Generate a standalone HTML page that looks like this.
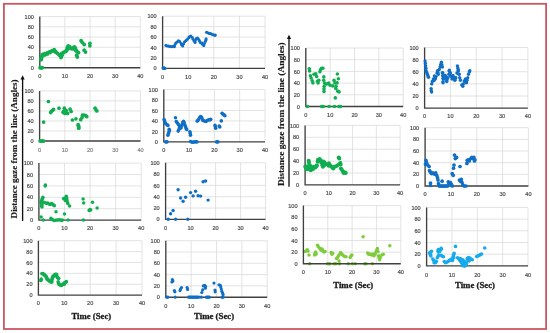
<!DOCTYPE html>
<html><head><meta charset="utf-8"><title>Figure</title>
<style>html,body{margin:0;padding:0;background:#fff}svg{display:block;filter:blur(0.35px)}</style>
</head><body>
<svg width="550" height="333" viewBox="0 0 550 333">
<rect x="0" y="0" width="550" height="333" fill="#fff"/>
<rect x="3.9" y="3.8" width="542.2" height="325.2" fill="none" stroke="#cb5763" stroke-width="1.8"/>
<g stroke="#dadada" stroke-width="0.75"><line x1="64.92" y1="16.60" x2="64.92" y2="67.70"/><line x1="90.05" y1="16.60" x2="90.05" y2="67.70"/><line x1="115.18" y1="16.60" x2="115.18" y2="67.70"/><line x1="140.30" y1="16.60" x2="140.30" y2="67.70"/><line x1="39.80" y1="57.48" x2="140.30" y2="57.48"/><line x1="39.80" y1="47.26" x2="140.30" y2="47.26"/><line x1="39.80" y1="37.04" x2="140.30" y2="37.04"/><line x1="39.80" y1="26.82" x2="140.30" y2="26.82"/><line x1="39.80" y1="16.60" x2="140.30" y2="16.60"/></g>
<path d="M39.80 16.60V67.70H140.30" fill="none" stroke="#404040" stroke-width="1.35" stroke-linejoin="miter"/>
<g fill="#10ae50"><circle cx="40.1" cy="67.7" r="1.90"/><circle cx="40.8" cy="67.7" r="1.90"/><circle cx="41.6" cy="67.7" r="1.90"/><circle cx="42.3" cy="67.7" r="1.90"/><circle cx="42.4" cy="55.0" r="1.90"/><circle cx="44.8" cy="55.0" r="1.90"/><circle cx="47.5" cy="53.9" r="1.90"/><circle cx="50.1" cy="52.5" r="1.90"/><circle cx="52.8" cy="51.0" r="1.90"/><circle cx="55.2" cy="51.7" r="1.90"/><circle cx="63.4" cy="52.7" r="1.90"/><circle cx="66.6" cy="50.2" r="1.90"/><circle cx="69.7" cy="46.7" r="1.90"/><circle cx="72.6" cy="48.9" r="1.90"/><circle cx="75.6" cy="48.9" r="1.90"/><circle cx="76.4" cy="50.8" r="1.90"/><circle cx="40.9" cy="59.8" r="1.90"/><circle cx="41.1" cy="59.1" r="1.90"/><circle cx="41.4" cy="57.3" r="1.90"/><circle cx="42.1" cy="55.9" r="1.90"/><circle cx="42.7" cy="54.4" r="1.90"/><circle cx="44.8" cy="53.6" r="1.90"/><circle cx="46.5" cy="53.8" r="1.90"/><circle cx="47.2" cy="53.0" r="1.90"/><circle cx="49.0" cy="52.2" r="1.90"/><circle cx="50.7" cy="51.4" r="1.90"/><circle cx="52.4" cy="50.6" r="1.90"/><circle cx="54.2" cy="49.7" r="1.90"/><circle cx="55.6" cy="51.5" r="1.90"/><circle cx="56.0" cy="52.3" r="1.90"/><circle cx="57.4" cy="53.3" r="1.90"/><circle cx="58.8" cy="54.4" r="1.90"/><circle cx="59.9" cy="55.5" r="1.90"/><circle cx="61.0" cy="57.6" r="1.90"/><circle cx="61.6" cy="56.1" r="1.90"/><circle cx="62.2" cy="54.7" r="1.90"/><circle cx="61.8" cy="53.3" r="1.90"/><circle cx="63.5" cy="52.4" r="1.90"/><circle cx="65.2" cy="51.6" r="1.90"/><circle cx="66.0" cy="51.3" r="1.90"/><circle cx="66.8" cy="50.0" r="1.90"/><circle cx="67.6" cy="48.7" r="1.90"/><circle cx="67.4" cy="47.4" r="1.90"/><circle cx="68.1" cy="46.0" r="1.90"/><circle cx="69.6" cy="47.8" r="1.90"/><circle cx="71.0" cy="48.6" r="1.90"/><circle cx="72.7" cy="47.8" r="1.90"/><circle cx="74.4" cy="46.9" r="1.90"/><circle cx="75.2" cy="47.8" r="1.90"/><circle cx="75.0" cy="48.7" r="1.90"/><circle cx="75.8" cy="50.6" r="1.90"/><circle cx="77.2" cy="51.6" r="1.90"/><circle cx="78.5" cy="52.7" r="1.90"/><circle cx="76.7" cy="55.2" r="1.90"/><circle cx="77.3" cy="57.1" r="1.90"/><circle cx="81.1" cy="40.7" r="1.90"/><circle cx="82.3" cy="42.6" r="1.90"/><circle cx="84.2" cy="44.5" r="1.90"/><circle cx="84.2" cy="50.2" r="1.90"/><circle cx="85.5" cy="52.1" r="1.90"/><circle cx="89.9" cy="43.3" r="1.90"/><circle cx="89.9" cy="45.8" r="1.90"/><circle cx="41.6" cy="58.8" r="1.90"/></g>
<g font-family="&quot;Liberation Sans&quot;, sans-serif" font-size="6.0" fill="#484848" stroke="#484848" stroke-width="0.18"><text transform="translate(33.90 69.80) scale(0.93 1)" text-anchor="end">0</text><text transform="translate(33.90 59.58) scale(0.93 1)" text-anchor="end">20</text><text transform="translate(33.90 49.36) scale(0.93 1)" text-anchor="end">40</text><text transform="translate(33.90 39.14) scale(0.93 1)" text-anchor="end">60</text><text transform="translate(33.90 28.92) scale(0.93 1)" text-anchor="end">80</text><text transform="translate(33.90 18.70) scale(0.93 1)" text-anchor="end">100</text><text transform="translate(39.80 78.35) scale(0.93 1)" text-anchor="middle">0</text><text transform="translate(64.92 78.35) scale(0.93 1)" text-anchor="middle">10</text><text transform="translate(90.05 78.35) scale(0.93 1)" text-anchor="middle">20</text><text transform="translate(115.18 78.35) scale(0.93 1)" text-anchor="middle">30</text><text transform="translate(140.30 78.35) scale(0.93 1)" text-anchor="middle">40</text></g>
<g stroke="#dadada" stroke-width="0.75"><line x1="188.20" y1="16.20" x2="188.20" y2="68.30"/><line x1="213.80" y1="16.20" x2="213.80" y2="68.30"/><line x1="239.40" y1="16.20" x2="239.40" y2="68.30"/><line x1="265.00" y1="16.20" x2="265.00" y2="68.30"/><line x1="162.60" y1="57.88" x2="265.00" y2="57.88"/><line x1="162.60" y1="47.46" x2="265.00" y2="47.46"/><line x1="162.60" y1="37.04" x2="265.00" y2="37.04"/><line x1="162.60" y1="26.62" x2="265.00" y2="26.62"/><line x1="162.60" y1="16.20" x2="265.00" y2="16.20"/></g>
<path d="M162.60 16.20V68.30H265.00" fill="none" stroke="#404040" stroke-width="1.35" stroke-linejoin="miter"/>
<g fill="#106fc5"><circle cx="163.0" cy="68.1" r="1.55"/><circle cx="163.6" cy="68.5" r="1.55"/><circle cx="164.3" cy="68.1" r="1.55"/><circle cx="164.9" cy="68.4" r="1.55"/><circle cx="163.9" cy="67.9" r="1.55"/><circle cx="165.9" cy="45.4" r="1.55"/><circle cx="167.3" cy="46.0" r="1.55"/><circle cx="168.7" cy="46.1" r="1.55"/><circle cx="170.1" cy="46.5" r="1.55"/><circle cx="171.5" cy="46.7" r="1.55"/><circle cx="172.9" cy="46.4" r="1.55"/><circle cx="174.3" cy="46.7" r="1.55"/><circle cx="174.5" cy="45.5" r="1.55"/><circle cx="175.6" cy="43.4" r="1.55"/><circle cx="177.0" cy="42.0" r="1.55"/><circle cx="178.4" cy="40.9" r="1.55"/><circle cx="179.8" cy="41.6" r="1.55"/><circle cx="181.2" cy="43.5" r="1.55"/><circle cx="181.6" cy="44.8" r="1.55"/><circle cx="182.7" cy="45.9" r="1.55"/><circle cx="183.6" cy="43.8" r="1.55"/><circle cx="184.6" cy="41.7" r="1.55"/><circle cx="186.0" cy="40.6" r="1.55"/><circle cx="187.4" cy="39.2" r="1.55"/><circle cx="188.8" cy="37.8" r="1.55"/><circle cx="189.3" cy="36.9" r="1.55"/><circle cx="190.7" cy="36.1" r="1.55"/><circle cx="192.1" cy="37.2" r="1.55"/><circle cx="193.1" cy="39.3" r="1.55"/><circle cx="194.1" cy="41.0" r="1.55"/><circle cx="195.1" cy="42.5" r="1.55"/><circle cx="195.3" cy="40.6" r="1.55"/><circle cx="196.3" cy="38.6" r="1.55"/><circle cx="197.5" cy="38.1" r="1.55"/><circle cx="198.5" cy="39.2" r="1.55"/><circle cx="199.5" cy="40.9" r="1.55"/><circle cx="200.4" cy="42.6" r="1.55"/><circle cx="202.1" cy="43.1" r="1.55"/><circle cx="202.5" cy="44.2" r="1.55"/><circle cx="203.7" cy="45.6" r="1.55"/><circle cx="204.4" cy="43.5" r="1.55"/><circle cx="205.3" cy="41.5" r="1.55"/><circle cx="205.9" cy="40.0" r="1.55"/><circle cx="206.1" cy="38.9" r="1.55"/><circle cx="206.5" cy="32.2" r="1.55"/><circle cx="207.7" cy="32.7" r="1.55"/><circle cx="209.1" cy="33.4" r="1.55"/><circle cx="210.5" cy="33.6" r="1.55"/><circle cx="211.9" cy="34.3" r="1.55"/><circle cx="213.3" cy="34.8" r="1.55"/><circle cx="214.7" cy="35.3" r="1.55"/><circle cx="215.3" cy="35.1" r="1.55"/></g>
<g font-family="&quot;Liberation Sans&quot;, sans-serif" font-size="6.0" fill="#484848" stroke="#484848" stroke-width="0.18"><text transform="translate(156.70 70.40) scale(0.93 1)" text-anchor="end">0</text><text transform="translate(156.70 59.98) scale(0.93 1)" text-anchor="end">20</text><text transform="translate(156.70 49.56) scale(0.93 1)" text-anchor="end">40</text><text transform="translate(156.70 39.14) scale(0.93 1)" text-anchor="end">60</text><text transform="translate(156.70 28.72) scale(0.93 1)" text-anchor="end">80</text><text transform="translate(156.70 18.30) scale(0.93 1)" text-anchor="end">100</text><text transform="translate(162.60 79.20) scale(0.93 1)" text-anchor="middle">0</text><text transform="translate(188.20 79.20) scale(0.93 1)" text-anchor="middle">10</text><text transform="translate(213.80 79.20) scale(0.93 1)" text-anchor="middle">20</text><text transform="translate(239.40 79.20) scale(0.93 1)" text-anchor="middle">30</text><text transform="translate(265.00 79.20) scale(0.93 1)" text-anchor="middle">40</text></g>
<g stroke="#dadada" stroke-width="0.75"><line x1="64.83" y1="90.90" x2="64.83" y2="141.00"/><line x1="90.05" y1="90.90" x2="90.05" y2="141.00"/><line x1="115.28" y1="90.90" x2="115.28" y2="141.00"/><line x1="140.50" y1="90.90" x2="140.50" y2="141.00"/><line x1="39.60" y1="130.98" x2="140.50" y2="130.98"/><line x1="39.60" y1="120.96" x2="140.50" y2="120.96"/><line x1="39.60" y1="110.94" x2="140.50" y2="110.94"/><line x1="39.60" y1="100.92" x2="140.50" y2="100.92"/><line x1="39.60" y1="90.90" x2="140.50" y2="90.90"/></g>
<path d="M39.60 90.90V141.00H140.50" fill="none" stroke="#404040" stroke-width="1.35" stroke-linejoin="miter"/>
<g fill="#10ae50"><circle cx="40.1" cy="141.0" r="1.85"/><circle cx="41.0" cy="141.0" r="1.85"/><circle cx="41.9" cy="141.0" r="1.85"/><circle cx="42.8" cy="141.0" r="1.85"/><circle cx="43.6" cy="141.0" r="1.85"/><circle cx="63.6" cy="112.2" r="1.85"/><circle cx="65.5" cy="112.8" r="1.85"/><circle cx="64.5" cy="110.5" r="1.85"/><circle cx="51.3" cy="111.3" r="1.85"/><circle cx="78.3" cy="125.3" r="1.85"/><circle cx="78.7" cy="127.8" r="1.85"/><circle cx="48.4" cy="101.5" r="1.85"/><circle cx="43.6" cy="122.1" r="1.85"/><circle cx="50.7" cy="112.6" r="1.85"/><circle cx="52.4" cy="110.5" r="1.85"/><circle cx="53.5" cy="109.4" r="1.85"/><circle cx="59.0" cy="108.2" r="1.85"/><circle cx="63.1" cy="112.2" r="1.85"/><circle cx="64.3" cy="108.2" r="1.85"/><circle cx="64.8" cy="113.4" r="1.85"/><circle cx="66.3" cy="110.5" r="1.85"/><circle cx="67.6" cy="113.4" r="1.85"/><circle cx="70.1" cy="109.1" r="1.85"/><circle cx="71.1" cy="111.4" r="1.85"/><circle cx="72.4" cy="120.0" r="1.85"/><circle cx="75.9" cy="118.8" r="1.85"/><circle cx="78.2" cy="124.7" r="1.85"/><circle cx="78.7" cy="126.6" r="1.85"/><circle cx="78.7" cy="128.2" r="1.85"/><circle cx="80.7" cy="119.7" r="1.85"/><circle cx="82.0" cy="117.6" r="1.85"/><circle cx="82.5" cy="115.2" r="1.85"/><circle cx="84.2" cy="115.0" r="1.85"/><circle cx="85.8" cy="115.7" r="1.85"/><circle cx="86.8" cy="116.7" r="1.85"/><circle cx="95.1" cy="108.2" r="1.85"/><circle cx="95.9" cy="109.8" r="1.85"/><circle cx="96.9" cy="110.9" r="1.85"/></g>
<g font-family="&quot;Liberation Sans&quot;, sans-serif" font-size="6.0" fill="#484848" stroke="#484848" stroke-width="0.18"><text transform="translate(33.70 143.10) scale(0.93 1)" text-anchor="end">0</text><text transform="translate(33.70 133.08) scale(0.93 1)" text-anchor="end">20</text><text transform="translate(33.70 123.06) scale(0.93 1)" text-anchor="end">40</text><text transform="translate(33.70 113.04) scale(0.93 1)" text-anchor="end">60</text><text transform="translate(33.70 103.02) scale(0.93 1)" text-anchor="end">80</text><text transform="translate(33.70 93.00) scale(0.93 1)" text-anchor="end">100</text><text transform="translate(39.60 151.55) scale(0.93 1)" text-anchor="middle" fill="#808080" stroke="#808080">0</text><text transform="translate(64.83 151.55) scale(0.93 1)" text-anchor="middle" fill="#808080" stroke="#808080">10</text><text transform="translate(90.05 151.55) scale(0.93 1)" text-anchor="middle" fill="#808080" stroke="#808080">20</text><text transform="translate(115.28 151.55) scale(0.93 1)" text-anchor="middle" fill="#808080" stroke="#808080">30</text><text transform="translate(140.50 151.55) scale(0.93 1)" text-anchor="middle" fill="#808080" stroke="#808080">40</text></g>
<g stroke="#dadada" stroke-width="0.75"><line x1="189.10" y1="89.50" x2="189.10" y2="141.90"/><line x1="214.40" y1="89.50" x2="214.40" y2="141.90"/><line x1="239.70" y1="89.50" x2="239.70" y2="141.90"/><line x1="265.00" y1="89.50" x2="265.00" y2="141.90"/><line x1="163.80" y1="131.42" x2="265.00" y2="131.42"/><line x1="163.80" y1="120.94" x2="265.00" y2="120.94"/><line x1="163.80" y1="110.46" x2="265.00" y2="110.46"/><line x1="163.80" y1="99.98" x2="265.00" y2="99.98"/><line x1="163.80" y1="89.50" x2="265.00" y2="89.50"/></g>
<path d="M163.80 89.50V141.90H265.00" fill="none" stroke="#404040" stroke-width="1.35" stroke-linejoin="miter"/>
<g fill="#106fc5"><circle cx="164.1" cy="119.6" r="1.80"/><circle cx="164.5" cy="120.9" r="1.80"/><circle cx="164.8" cy="122.2" r="1.80"/><circle cx="165.7" cy="123.5" r="1.80"/><circle cx="167.0" cy="124.7" r="1.80"/><circle cx="167.9" cy="125.4" r="1.80"/><circle cx="169.2" cy="129.2" r="1.80"/><circle cx="169.5" cy="130.5" r="1.80"/><circle cx="168.9" cy="132.0" r="1.80"/><circle cx="168.4" cy="133.6" r="1.80"/><circle cx="167.9" cy="135.3" r="1.80"/><circle cx="165.7" cy="141.9" r="1.80"/><circle cx="167.0" cy="141.9" r="1.80"/><circle cx="175.5" cy="117.7" r="1.80"/><circle cx="176.3" cy="121.5" r="1.80"/><circle cx="177.2" cy="122.8" r="1.80"/><circle cx="178.1" cy="124.1" r="1.80"/><circle cx="179.1" cy="125.4" r="1.80"/><circle cx="179.7" cy="127.3" r="1.80"/><circle cx="179.1" cy="129.2" r="1.80"/><circle cx="178.2" cy="131.1" r="1.80"/><circle cx="181.0" cy="127.9" r="1.80"/><circle cx="181.6" cy="126.0" r="1.80"/><circle cx="182.3" cy="124.1" r="1.80"/><circle cx="182.9" cy="122.2" r="1.80"/><circle cx="183.5" cy="121.3" r="1.80"/><circle cx="184.2" cy="122.8" r="1.80"/><circle cx="184.8" cy="124.7" r="1.80"/><circle cx="185.5" cy="126.6" r="1.80"/><circle cx="186.1" cy="128.5" r="1.80"/><circle cx="186.7" cy="129.4" r="1.80"/><circle cx="189.9" cy="131.7" r="1.80"/><circle cx="190.3" cy="133.6" r="1.80"/><circle cx="190.5" cy="135.3" r="1.80"/><circle cx="215.0" cy="125.4" r="1.80"/><circle cx="215.4" cy="126.9" r="1.80"/><circle cx="215.7" cy="128.2" r="1.80"/><circle cx="219.2" cy="126.0" r="1.80"/><circle cx="219.8" cy="126.9" r="1.80"/><circle cx="221.3" cy="120.9" r="1.80"/><circle cx="222.1" cy="113.3" r="1.80"/><circle cx="223.0" cy="114.2" r="1.80"/><circle cx="224.0" cy="114.9" r="1.80"/><circle cx="224.9" cy="115.8" r="1.80"/><circle cx="216.6" cy="141.9" r="1.80"/><circle cx="217.9" cy="141.9" r="1.80"/><circle cx="190.7" cy="141.5" r="1.80"/><circle cx="192.0" cy="142.3" r="1.80"/><circle cx="193.3" cy="142.1" r="1.80"/><circle cx="194.6" cy="141.9" r="1.80"/><circle cx="195.9" cy="141.7" r="1.80"/><circle cx="196.9" cy="141.9" r="1.80"/><circle cx="197.1" cy="121.1" r="1.80"/><circle cx="197.9" cy="120.6" r="1.80"/><circle cx="198.7" cy="119.2" r="1.80"/><circle cx="199.7" cy="117.5" r="1.80"/><circle cx="200.6" cy="116.5" r="1.80"/><circle cx="201.7" cy="117.4" r="1.80"/><circle cx="202.7" cy="119.7" r="1.80"/><circle cx="202.9" cy="120.5" r="1.80"/><circle cx="204.3" cy="121.0" r="1.80"/><circle cx="205.7" cy="121.5" r="1.80"/><circle cx="207.2" cy="120.6" r="1.80"/><circle cx="208.6" cy="119.8" r="1.80"/><circle cx="210.0" cy="120.0" r="1.80"/><circle cx="210.7" cy="119.3" r="1.80"/></g>
<g font-family="&quot;Liberation Sans&quot;, sans-serif" font-size="6.0" fill="#484848" stroke="#484848" stroke-width="0.18"><text transform="translate(157.90 144.00) scale(0.93 1)" text-anchor="end">0</text><text transform="translate(157.90 133.52) scale(0.93 1)" text-anchor="end">20</text><text transform="translate(157.90 123.04) scale(0.93 1)" text-anchor="end">40</text><text transform="translate(157.90 112.56) scale(0.93 1)" text-anchor="end">60</text><text transform="translate(157.90 102.08) scale(0.93 1)" text-anchor="end">80</text><text transform="translate(157.90 91.60) scale(0.93 1)" text-anchor="end">100</text><text transform="translate(163.80 152.35) scale(0.93 1)" text-anchor="middle">0</text><text transform="translate(189.10 152.35) scale(0.93 1)" text-anchor="middle">10</text><text transform="translate(214.40 152.35) scale(0.93 1)" text-anchor="middle">20</text><text transform="translate(239.70 152.35) scale(0.93 1)" text-anchor="middle">30</text><text transform="translate(265.00 152.35) scale(0.93 1)" text-anchor="middle">40</text></g>
<g stroke="#dadada" stroke-width="0.75"><line x1="64.47" y1="163.10" x2="64.47" y2="220.10"/><line x1="90.05" y1="163.10" x2="90.05" y2="220.10"/><line x1="115.62" y1="163.10" x2="115.62" y2="220.10"/><line x1="141.20" y1="163.10" x2="141.20" y2="220.10"/><line x1="38.90" y1="208.70" x2="141.20" y2="208.70"/><line x1="38.90" y1="197.30" x2="141.20" y2="197.30"/><line x1="38.90" y1="185.90" x2="141.20" y2="185.90"/><line x1="38.90" y1="174.50" x2="141.20" y2="174.50"/><line x1="38.90" y1="163.10" x2="141.20" y2="163.10"/></g>
<path d="M38.90 163.10V220.10H141.20" fill="none" stroke="#404040" stroke-width="1.35" stroke-linejoin="miter"/>
<g fill="#10ae50"><circle cx="45.4" cy="185.1" r="1.75"/><circle cx="45.2" cy="186.1" r="1.75"/><circle cx="42.9" cy="197.2" r="1.75"/><circle cx="42.4" cy="198.5" r="1.75"/><circle cx="42.0" cy="199.7" r="1.75"/><circle cx="41.4" cy="201.0" r="1.75"/><circle cx="41.1" cy="202.3" r="1.75"/><circle cx="41.6" cy="203.5" r="1.75"/><circle cx="42.0" cy="204.8" r="1.75"/><circle cx="41.6" cy="206.1" r="1.75"/><circle cx="42.0" cy="207.0" r="1.75"/><circle cx="43.9" cy="202.3" r="1.75"/><circle cx="45.2" cy="202.7" r="1.75"/><circle cx="46.5" cy="203.5" r="1.75"/><circle cx="47.7" cy="202.9" r="1.75"/><circle cx="49.0" cy="203.9" r="1.75"/><circle cx="50.3" cy="204.4" r="1.75"/><circle cx="51.5" cy="203.5" r="1.75"/><circle cx="52.8" cy="204.2" r="1.75"/><circle cx="53.8" cy="205.2" r="1.75"/><circle cx="54.3" cy="205.8" r="1.75"/><circle cx="41.1" cy="216.9" r="1.75"/><circle cx="43.3" cy="220.1" r="1.75"/><circle cx="50.9" cy="218.2" r="1.75"/><circle cx="51.5" cy="219.2" r="1.75"/><circle cx="56.0" cy="211.8" r="1.75"/><circle cx="64.5" cy="214.1" r="1.75"/><circle cx="68.1" cy="220.1" r="1.75"/><circle cx="63.6" cy="198.5" r="1.75"/><circle cx="64.5" cy="199.1" r="1.75"/><circle cx="65.3" cy="200.4" r="1.75"/><circle cx="66.2" cy="196.3" r="1.75"/><circle cx="66.6" cy="197.8" r="1.75"/><circle cx="66.8" cy="199.1" r="1.75"/><circle cx="67.1" cy="201.0" r="1.75"/><circle cx="67.5" cy="202.7" r="1.75"/><circle cx="67.8" cy="203.5" r="1.75"/><circle cx="69.6" cy="206.1" r="1.75"/><circle cx="83.1" cy="199.1" r="1.75"/><circle cx="83.7" cy="202.9" r="1.75"/><circle cx="83.4" cy="220.1" r="1.75"/><circle cx="92.5" cy="202.3" r="1.75"/><circle cx="89.1" cy="210.5" r="1.75"/><circle cx="90.0" cy="209.5" r="1.75"/><circle cx="90.7" cy="209.9" r="1.75"/><circle cx="97.1" cy="208.0" r="1.75"/><circle cx="52.4" cy="219.6" r="1.75"/><circle cx="53.9" cy="220.5" r="1.75"/><circle cx="55.4" cy="220.3" r="1.75"/><circle cx="56.9" cy="220.1" r="1.75"/><circle cx="58.4" cy="219.9" r="1.75"/><circle cx="59.9" cy="219.7" r="1.75"/><circle cx="61.5" cy="220.5" r="1.75"/><circle cx="62.4" cy="220.1" r="1.75"/></g>
<g font-family="&quot;Liberation Sans&quot;, sans-serif" font-size="6.0" fill="#484848" stroke="#484848" stroke-width="0.18"><text transform="translate(33.00 222.20) scale(0.93 1)" text-anchor="end">0</text><text transform="translate(33.00 210.80) scale(0.93 1)" text-anchor="end">20</text><text transform="translate(33.00 199.40) scale(0.93 1)" text-anchor="end">40</text><text transform="translate(33.00 188.00) scale(0.93 1)" text-anchor="end">60</text><text transform="translate(33.00 176.60) scale(0.93 1)" text-anchor="end">80</text><text transform="translate(33.00 165.20) scale(0.93 1)" text-anchor="end">100</text><text transform="translate(38.90 230.15) scale(0.93 1)" text-anchor="middle">0</text><text transform="translate(64.47 230.15) scale(0.93 1)" text-anchor="middle">10</text><text transform="translate(90.05 230.15) scale(0.93 1)" text-anchor="middle">20</text><text transform="translate(115.62 230.15) scale(0.93 1)" text-anchor="middle">30</text><text transform="translate(141.20 230.15) scale(0.93 1)" text-anchor="middle">40</text></g>
<g stroke="#dadada" stroke-width="0.75"><line x1="190.60" y1="162.80" x2="190.60" y2="219.30"/><line x1="215.60" y1="162.80" x2="215.60" y2="219.30"/><line x1="240.60" y1="162.80" x2="240.60" y2="219.30"/><line x1="265.60" y1="162.80" x2="265.60" y2="219.30"/><line x1="165.60" y1="208.00" x2="265.60" y2="208.00"/><line x1="165.60" y1="196.70" x2="265.60" y2="196.70"/><line x1="165.60" y1="185.40" x2="265.60" y2="185.40"/><line x1="165.60" y1="174.10" x2="265.60" y2="174.10"/><line x1="165.60" y1="162.80" x2="265.60" y2="162.80"/></g>
<path d="M165.60 162.80V219.30H265.60" fill="none" stroke="#404040" stroke-width="1.35" stroke-linejoin="miter"/>
<g fill="#106fc5"><circle cx="168.2" cy="219.3" r="1.70"/><circle cx="175.6" cy="219.3" r="1.70"/><circle cx="187.8" cy="219.3" r="1.70"/><circle cx="170.6" cy="213.7" r="1.70"/><circle cx="173.1" cy="210.5" r="1.70"/><circle cx="178.1" cy="189.8" r="1.70"/><circle cx="180.6" cy="198.0" r="1.70"/><circle cx="183.1" cy="201.3" r="1.70"/><circle cx="185.6" cy="197.3" r="1.70"/><circle cx="190.6" cy="192.6" r="1.70"/><circle cx="193.1" cy="195.9" r="1.70"/><circle cx="195.6" cy="191.2" r="1.70"/><circle cx="198.1" cy="195.7" r="1.70"/><circle cx="200.6" cy="196.1" r="1.70"/><circle cx="203.1" cy="181.7" r="1.70"/><circle cx="205.6" cy="181.0" r="1.70"/><circle cx="208.1" cy="200.1" r="1.70"/></g>
<g font-family="&quot;Liberation Sans&quot;, sans-serif" font-size="6.0" fill="#484848" stroke="#484848" stroke-width="0.18"><text transform="translate(159.70 221.40) scale(0.93 1)" text-anchor="end">0</text><text transform="translate(159.70 210.10) scale(0.93 1)" text-anchor="end">20</text><text transform="translate(159.70 198.80) scale(0.93 1)" text-anchor="end">40</text><text transform="translate(159.70 187.50) scale(0.93 1)" text-anchor="end">60</text><text transform="translate(159.70 176.20) scale(0.93 1)" text-anchor="end">80</text><text transform="translate(159.70 164.90) scale(0.93 1)" text-anchor="end">100</text><text transform="translate(165.60 230.00) scale(0.93 1)" text-anchor="middle">0</text><text transform="translate(190.60 230.00) scale(0.93 1)" text-anchor="middle">10</text><text transform="translate(215.60 230.00) scale(0.93 1)" text-anchor="middle">20</text><text transform="translate(240.60 230.00) scale(0.93 1)" text-anchor="middle">30</text><text transform="translate(265.60 230.00) scale(0.93 1)" text-anchor="middle">40</text></g>
<g stroke="#dadada" stroke-width="0.75"><line x1="64.30" y1="240.70" x2="64.30" y2="295.10"/><line x1="90.20" y1="240.70" x2="90.20" y2="295.10"/><line x1="116.10" y1="240.70" x2="116.10" y2="295.10"/><line x1="142.00" y1="240.70" x2="142.00" y2="295.10"/><line x1="38.40" y1="284.22" x2="142.00" y2="284.22"/><line x1="38.40" y1="273.34" x2="142.00" y2="273.34"/><line x1="38.40" y1="262.46" x2="142.00" y2="262.46"/><line x1="38.40" y1="251.58" x2="142.00" y2="251.58"/><line x1="38.40" y1="240.70" x2="142.00" y2="240.70"/></g>
<path d="M38.40 240.70V295.10H142.00" fill="none" stroke="#404040" stroke-width="1.35" stroke-linejoin="miter"/>
<g fill="#10ae50"><circle cx="40.8" cy="280.5" r="1.85"/><circle cx="41.2" cy="279.2" r="1.85"/><circle cx="42.0" cy="273.6" r="1.85"/><circle cx="42.8" cy="273.6" r="1.85"/><circle cx="43.9" cy="274.3" r="1.85"/><circle cx="44.6" cy="275.0" r="1.85"/><circle cx="45.4" cy="275.8" r="1.85"/><circle cx="46.2" cy="276.6" r="1.85"/><circle cx="47.0" cy="278.4" r="1.85"/><circle cx="47.1" cy="279.1" r="1.85"/><circle cx="48.2" cy="279.9" r="1.85"/><circle cx="49.2" cy="280.7" r="1.85"/><circle cx="50.2" cy="281.5" r="1.85"/><circle cx="51.2" cy="281.9" r="1.85"/><circle cx="51.8" cy="281.8" r="1.85"/><circle cx="51.4" cy="280.6" r="1.85"/><circle cx="52.0" cy="279.2" r="1.85"/><circle cx="52.5" cy="277.7" r="1.85"/><circle cx="53.1" cy="276.3" r="1.85"/><circle cx="53.7" cy="275.8" r="1.85"/><circle cx="55.1" cy="274.4" r="1.85"/><circle cx="56.5" cy="274.4" r="1.85"/><circle cx="56.6" cy="275.9" r="1.85"/><circle cx="57.5" cy="277.4" r="1.85"/><circle cx="58.6" cy="278.3" r="1.85"/><circle cx="58.2" cy="281.9" r="1.85"/><circle cx="58.8" cy="283.7" r="1.85"/><circle cx="59.4" cy="284.5" r="1.85"/><circle cx="60.4" cy="284.9" r="1.85"/><circle cx="61.3" cy="285.4" r="1.85"/><circle cx="63.1" cy="284.2" r="1.85"/><circle cx="64.1" cy="284.2" r="1.85"/><circle cx="64.0" cy="283.3" r="1.85"/><circle cx="65.1" cy="282.5" r="1.85"/><circle cx="66.3" cy="281.7" r="1.85"/></g>
<g font-family="&quot;Liberation Sans&quot;, sans-serif" font-size="6.0" fill="#484848" stroke="#484848" stroke-width="0.18"><text transform="translate(32.50 297.20) scale(0.93 1)" text-anchor="end">0</text><text transform="translate(32.50 286.32) scale(0.93 1)" text-anchor="end">20</text><text transform="translate(32.50 275.44) scale(0.93 1)" text-anchor="end">40</text><text transform="translate(32.50 264.56) scale(0.93 1)" text-anchor="end">60</text><text transform="translate(32.50 253.68) scale(0.93 1)" text-anchor="end">80</text><text transform="translate(32.50 242.80) scale(0.93 1)" text-anchor="end">100</text><text transform="translate(38.40 305.15) scale(0.93 1)" text-anchor="middle">0</text><text transform="translate(64.30 305.15) scale(0.93 1)" text-anchor="middle">10</text><text transform="translate(90.20 305.15) scale(0.93 1)" text-anchor="middle">20</text><text transform="translate(116.10 305.15) scale(0.93 1)" text-anchor="middle">30</text><text transform="translate(142.00 305.15) scale(0.93 1)" text-anchor="middle">40</text></g>
<g stroke="#dadada" stroke-width="0.75"><line x1="191.15" y1="240.70" x2="191.15" y2="297.20"/><line x1="216.50" y1="240.70" x2="216.50" y2="297.20"/><line x1="241.85" y1="240.70" x2="241.85" y2="297.20"/><line x1="267.20" y1="240.70" x2="267.20" y2="297.20"/><line x1="165.80" y1="285.90" x2="267.20" y2="285.90"/><line x1="165.80" y1="274.60" x2="267.20" y2="274.60"/><line x1="165.80" y1="263.30" x2="267.20" y2="263.30"/><line x1="165.80" y1="252.00" x2="267.20" y2="252.00"/><line x1="165.80" y1="240.70" x2="267.20" y2="240.70"/></g>
<path d="M165.80 240.70V297.20H267.20" fill="none" stroke="#404040" stroke-width="1.35" stroke-linejoin="miter"/>
<g fill="#106fc5"><circle cx="166.8" cy="297.2" r="1.60"/><circle cx="167.8" cy="297.2" r="1.60"/><circle cx="175.2" cy="297.2" r="1.60"/><circle cx="172.4" cy="279.5" r="1.60"/><circle cx="171.9" cy="281.9" r="1.60"/><circle cx="172.9" cy="281.1" r="1.60"/><circle cx="174.4" cy="290.6" r="1.60"/><circle cx="174.9" cy="291.8" r="1.60"/><circle cx="180.0" cy="290.6" r="1.60"/><circle cx="180.5" cy="289.0" r="1.60"/><circle cx="181.5" cy="287.6" r="1.60"/><circle cx="187.1" cy="287.6" r="1.60"/><circle cx="187.6" cy="289.4" r="1.60"/><circle cx="201.3" cy="297.2" r="1.60"/><circle cx="201.8" cy="292.5" r="1.60"/><circle cx="202.6" cy="289.9" r="1.60"/><circle cx="203.3" cy="285.9" r="1.60"/><circle cx="204.6" cy="285.3" r="1.60"/><circle cx="205.6" cy="286.6" r="1.60"/><circle cx="205.3" cy="288.2" r="1.60"/><circle cx="214.0" cy="283.1" r="1.60"/><circle cx="215.0" cy="290.1" r="1.60"/><circle cx="215.2" cy="291.8" r="1.60"/><circle cx="219.0" cy="284.8" r="1.60"/><circle cx="220.3" cy="285.3" r="1.60"/><circle cx="220.8" cy="287.0" r="1.60"/><circle cx="221.3" cy="289.0" r="1.60"/><circle cx="221.8" cy="291.3" r="1.60"/><circle cx="222.6" cy="293.0" r="1.60"/><circle cx="223.1" cy="294.6" r="1.60"/><circle cx="222.1" cy="297.2" r="1.60"/><circle cx="223.1" cy="297.2" r="1.60"/><circle cx="188.6" cy="297.2" r="1.60"/><circle cx="189.6" cy="297.2" r="1.60"/><circle cx="190.6" cy="297.2" r="1.60"/><circle cx="191.7" cy="297.2" r="1.60"/><circle cx="192.7" cy="297.2" r="1.60"/><circle cx="193.7" cy="297.2" r="1.60"/><circle cx="194.7" cy="297.2" r="1.60"/><circle cx="195.7" cy="297.2" r="1.60"/><circle cx="196.7" cy="297.2" r="1.60"/><circle cx="197.7" cy="297.2" r="1.60"/><circle cx="198.8" cy="297.2" r="1.60"/><circle cx="206.4" cy="297.2" r="1.60"/><circle cx="207.4" cy="297.2" r="1.60"/><circle cx="208.4" cy="297.2" r="1.60"/><circle cx="209.4" cy="297.2" r="1.60"/></g>
<g font-family="&quot;Liberation Sans&quot;, sans-serif" font-size="6.0" fill="#484848" stroke="#484848" stroke-width="0.18"><text transform="translate(159.90 299.30) scale(0.93 1)" text-anchor="end">0</text><text transform="translate(159.90 288.00) scale(0.93 1)" text-anchor="end">20</text><text transform="translate(159.90 276.70) scale(0.93 1)" text-anchor="end">40</text><text transform="translate(159.90 265.40) scale(0.93 1)" text-anchor="end">60</text><text transform="translate(159.90 254.10) scale(0.93 1)" text-anchor="end">80</text><text transform="translate(159.90 242.80) scale(0.93 1)" text-anchor="end">100</text><text transform="translate(165.80 307.80) scale(0.93 1)" text-anchor="middle">0</text><text transform="translate(191.15 307.80) scale(0.93 1)" text-anchor="middle">10</text><text transform="translate(216.50 307.80) scale(0.93 1)" text-anchor="middle">20</text><text transform="translate(241.85 307.80) scale(0.93 1)" text-anchor="middle">30</text><text transform="translate(267.20 307.80) scale(0.93 1)" text-anchor="middle">40</text></g>
<g stroke="#dadada" stroke-width="0.75"><line x1="330.15" y1="48.00" x2="330.15" y2="106.50"/><line x1="354.50" y1="48.00" x2="354.50" y2="106.50"/><line x1="378.85" y1="48.00" x2="378.85" y2="106.50"/><line x1="403.20" y1="48.00" x2="403.20" y2="106.50"/><line x1="305.80" y1="94.80" x2="403.20" y2="94.80"/><line x1="305.80" y1="83.10" x2="403.20" y2="83.10"/><line x1="305.80" y1="71.40" x2="403.20" y2="71.40"/><line x1="305.80" y1="59.70" x2="403.20" y2="59.70"/><line x1="305.80" y1="48.00" x2="403.20" y2="48.00"/></g>
<path d="M305.80 48.00V106.50H403.20" fill="none" stroke="#404040" stroke-width="1.35" stroke-linejoin="miter"/>
<g fill="#10ae50"><circle cx="307.5" cy="106.5" r="1.80"/><circle cx="329.2" cy="106.5" r="1.80"/><circle cx="334.5" cy="106.5" r="1.80"/><circle cx="335.3" cy="97.9" r="1.80"/><circle cx="321.6" cy="106.5" r="1.80"/><circle cx="322.5" cy="106.5" r="1.80"/><circle cx="323.3" cy="106.5" r="1.80"/><circle cx="338.9" cy="106.5" r="1.80"/><circle cx="339.8" cy="106.5" r="1.80"/><circle cx="340.6" cy="106.5" r="1.80"/><circle cx="309.3" cy="68.7" r="1.80"/><circle cx="309.6" cy="70.9" r="1.80"/><circle cx="310.4" cy="75.8" r="1.80"/><circle cx="311.2" cy="78.0" r="1.80"/><circle cx="312.2" cy="80.7" r="1.80"/><circle cx="312.9" cy="82.9" r="1.80"/><circle cx="314.0" cy="74.2" r="1.80"/><circle cx="315.8" cy="73.9" r="1.80"/><circle cx="316.6" cy="76.6" r="1.80"/><circle cx="317.5" cy="81.3" r="1.80"/><circle cx="318.1" cy="82.9" r="1.80"/><circle cx="318.8" cy="80.2" r="1.80"/><circle cx="319.9" cy="71.8" r="1.80"/><circle cx="320.5" cy="69.8" r="1.80"/><circle cx="321.6" cy="68.3" r="1.80"/><circle cx="322.9" cy="68.3" r="1.80"/><circle cx="323.8" cy="76.9" r="1.80"/><circle cx="323.7" cy="80.2" r="1.80"/><circle cx="324.5" cy="83.1" r="1.80"/><circle cx="324.2" cy="86.2" r="1.80"/><circle cx="324.0" cy="88.9" r="1.80"/><circle cx="324.0" cy="91.6" r="1.80"/><circle cx="326.7" cy="84.0" r="1.80"/><circle cx="328.6" cy="83.1" r="1.80"/><circle cx="330.0" cy="85.3" r="1.80"/><circle cx="332.7" cy="85.9" r="1.80"/><circle cx="334.0" cy="80.2" r="1.80"/><circle cx="334.9" cy="82.9" r="1.80"/><circle cx="336.0" cy="86.2" r="1.80"/><circle cx="335.8" cy="88.4" r="1.80"/><circle cx="337.6" cy="91.1" r="1.80"/><circle cx="339.1" cy="91.9" r="1.80"/><circle cx="337.4" cy="74.0" r="1.80"/><circle cx="338.4" cy="78.8" r="1.80"/><circle cx="337.1" cy="82.9" r="1.80"/></g>
<g font-family="&quot;Liberation Sans&quot;, sans-serif" font-size="6.0" fill="#484848" stroke="#484848" stroke-width="0.18"><text transform="translate(299.90 108.60) scale(0.93 1)" text-anchor="end">0</text><text transform="translate(299.90 96.90) scale(0.93 1)" text-anchor="end">20</text><text transform="translate(299.90 85.20) scale(0.93 1)" text-anchor="end">40</text><text transform="translate(299.90 73.50) scale(0.93 1)" text-anchor="end">60</text><text transform="translate(299.90 61.80) scale(0.93 1)" text-anchor="end">80</text><text transform="translate(299.90 50.10) scale(0.93 1)" text-anchor="end">100</text><text transform="translate(305.80 116.90) scale(0.93 1)" text-anchor="middle">0</text><text transform="translate(330.15 116.90) scale(0.93 1)" text-anchor="middle">10</text><text transform="translate(354.50 116.90) scale(0.93 1)" text-anchor="middle">20</text><text transform="translate(378.85 116.90) scale(0.93 1)" text-anchor="middle">30</text><text transform="translate(403.20 116.90) scale(0.93 1)" text-anchor="middle">40</text></g>
<g stroke="#dadada" stroke-width="0.75"><line x1="450.43" y1="47.50" x2="450.43" y2="108.15"/><line x1="476.25" y1="47.50" x2="476.25" y2="108.15"/><line x1="502.07" y1="47.50" x2="502.07" y2="108.15"/><line x1="527.90" y1="47.50" x2="527.90" y2="108.15"/><line x1="424.60" y1="96.02" x2="527.90" y2="96.02"/><line x1="424.60" y1="83.89" x2="527.90" y2="83.89"/><line x1="424.60" y1="71.76" x2="527.90" y2="71.76"/><line x1="424.60" y1="59.63" x2="527.90" y2="59.63"/><line x1="424.60" y1="47.50" x2="527.90" y2="47.50"/></g>
<path d="M424.60 47.50V108.15H527.90" fill="none" stroke="#404040" stroke-width="1.35" stroke-linejoin="miter"/>
<g fill="#106fc5"><circle cx="442.3" cy="72.8" r="1.70"/><circle cx="442.7" cy="75.4" r="1.70"/><circle cx="442.9" cy="78.5" r="1.70"/><circle cx="442.9" cy="81.7" r="1.70"/><circle cx="446.1" cy="76.6" r="1.70"/><circle cx="446.7" cy="80.5" r="1.70"/><circle cx="447.4" cy="78.5" r="1.70"/><circle cx="449.3" cy="70.3" r="1.70"/><circle cx="449.9" cy="73.5" r="1.70"/><circle cx="450.5" cy="76.0" r="1.70"/><circle cx="453.7" cy="77.3" r="1.70"/><circle cx="455.0" cy="79.8" r="1.70"/><circle cx="435.3" cy="78.5" r="1.70"/><circle cx="434.0" cy="80.5" r="1.70"/><circle cx="437.8" cy="72.2" r="1.70"/><circle cx="458.2" cy="70.3" r="1.70"/><circle cx="458.8" cy="74.1" r="1.70"/><circle cx="464.8" cy="80.5" r="1.70"/><circle cx="466.5" cy="82.4" r="1.70"/><circle cx="425.1" cy="61.1" r="1.70"/><circle cx="425.4" cy="63.5" r="1.70"/><circle cx="425.6" cy="65.9" r="1.70"/><circle cx="425.9" cy="68.3" r="1.70"/><circle cx="426.1" cy="70.7" r="1.70"/><circle cx="426.7" cy="72.5" r="1.70"/><circle cx="427.4" cy="74.2" r="1.70"/><circle cx="428.0" cy="76.0" r="1.70"/><circle cx="428.5" cy="77.3" r="1.70"/><circle cx="431.1" cy="88.6" r="1.70"/><circle cx="431.3" cy="90.6" r="1.70"/><circle cx="431.6" cy="92.1" r="1.70"/><circle cx="431.7" cy="83.9" r="1.70"/><circle cx="432.3" cy="81.5" r="1.70"/><circle cx="433.4" cy="79.0" r="1.70"/><circle cx="434.4" cy="76.0" r="1.70"/><circle cx="435.2" cy="79.0" r="1.70"/><circle cx="436.0" cy="76.6" r="1.70"/><circle cx="437.0" cy="73.0" r="1.70"/><circle cx="437.5" cy="70.7" r="1.70"/><circle cx="438.3" cy="74.2" r="1.70"/><circle cx="439.3" cy="69.5" r="1.70"/><circle cx="440.1" cy="67.1" r="1.70"/><circle cx="440.6" cy="64.7" r="1.70"/><circle cx="441.4" cy="62.3" r="1.70"/><circle cx="441.9" cy="64.7" r="1.70"/><circle cx="442.4" cy="67.1" r="1.70"/><circle cx="442.9" cy="73.0" r="1.70"/><circle cx="443.2" cy="76.6" r="1.70"/><circle cx="443.1" cy="82.7" r="1.70"/><circle cx="444.2" cy="79.0" r="1.70"/><circle cx="445.3" cy="75.4" r="1.70"/><circle cx="446.0" cy="77.8" r="1.70"/><circle cx="446.8" cy="81.5" r="1.70"/><circle cx="447.8" cy="77.8" r="1.70"/><circle cx="448.9" cy="74.2" r="1.70"/><circle cx="449.4" cy="71.2" r="1.70"/><circle cx="450.4" cy="73.0" r="1.70"/><circle cx="451.5" cy="76.6" r="1.70"/><circle cx="452.0" cy="79.0" r="1.70"/><circle cx="453.0" cy="75.4" r="1.70"/><circle cx="454.0" cy="77.8" r="1.70"/><circle cx="454.8" cy="80.3" r="1.70"/><circle cx="455.8" cy="77.8" r="1.70"/><circle cx="456.9" cy="73.0" r="1.70"/><circle cx="457.4" cy="65.9" r="1.70"/><circle cx="457.9" cy="68.3" r="1.70"/><circle cx="458.4" cy="70.7" r="1.70"/><circle cx="459.2" cy="74.2" r="1.70"/><circle cx="459.7" cy="77.8" r="1.70"/><circle cx="460.5" cy="80.3" r="1.70"/><circle cx="461.8" cy="85.0" r="1.70"/><circle cx="462.8" cy="86.2" r="1.70"/><circle cx="463.3" cy="83.9" r="1.70"/><circle cx="464.4" cy="81.5" r="1.70"/><circle cx="465.4" cy="79.0" r="1.70"/><circle cx="466.2" cy="82.7" r="1.70"/><circle cx="467.0" cy="80.3" r="1.70"/><circle cx="467.7" cy="77.8" r="1.70"/><circle cx="468.5" cy="74.2" r="1.70"/><circle cx="469.3" cy="71.9" r="1.70"/><circle cx="469.8" cy="70.7" r="1.70"/></g>
<g font-family="&quot;Liberation Sans&quot;, sans-serif" font-size="6.0" fill="#484848" stroke="#484848" stroke-width="0.18"><text transform="translate(418.70 110.25) scale(0.93 1)" text-anchor="end">0</text><text transform="translate(418.70 98.12) scale(0.93 1)" text-anchor="end">20</text><text transform="translate(418.70 85.99) scale(0.93 1)" text-anchor="end">40</text><text transform="translate(418.70 73.86) scale(0.93 1)" text-anchor="end">60</text><text transform="translate(418.70 61.73) scale(0.93 1)" text-anchor="end">80</text><text transform="translate(418.70 49.60) scale(0.93 1)" text-anchor="end">100</text><text transform="translate(424.60 117.60) scale(0.93 1)" text-anchor="middle">0</text><text transform="translate(450.43 117.60) scale(0.93 1)" text-anchor="middle">10</text><text transform="translate(476.25 117.60) scale(0.93 1)" text-anchor="middle">20</text><text transform="translate(502.07 117.60) scale(0.93 1)" text-anchor="middle">30</text><text transform="translate(527.90 117.60) scale(0.93 1)" text-anchor="middle">40</text></g>
<g stroke="#dadada" stroke-width="0.75"><line x1="328.85" y1="125.40" x2="328.85" y2="184.90"/><line x1="352.60" y1="125.40" x2="352.60" y2="184.90"/><line x1="376.35" y1="125.40" x2="376.35" y2="184.90"/><line x1="400.10" y1="125.40" x2="400.10" y2="184.90"/><line x1="305.10" y1="173.00" x2="400.10" y2="173.00"/><line x1="305.10" y1="161.10" x2="400.10" y2="161.10"/><line x1="305.10" y1="149.20" x2="400.10" y2="149.20"/><line x1="305.10" y1="137.30" x2="400.10" y2="137.30"/><line x1="305.10" y1="125.40" x2="400.10" y2="125.40"/></g>
<path d="M305.10 125.40V184.90H400.10" fill="none" stroke="#404040" stroke-width="1.35" stroke-linejoin="miter"/>
<g fill="#10ae50"><circle cx="306.0" cy="167.4" r="2.00"/><circle cx="307.1" cy="166.3" r="2.00"/><circle cx="308.2" cy="168.5" r="2.00"/><circle cx="306.5" cy="169.2" r="2.00"/><circle cx="305.2" cy="166.8" r="2.00"/><circle cx="308.7" cy="160.8" r="2.00"/><circle cx="308.9" cy="162.5" r="2.00"/><circle cx="309.8" cy="165.2" r="2.00"/><circle cx="310.9" cy="166.3" r="2.00"/><circle cx="312.0" cy="167.4" r="2.00"/><circle cx="310.9" cy="170.3" r="2.00"/><circle cx="309.6" cy="169.5" r="2.00"/><circle cx="313.1" cy="169.0" r="2.00"/><circle cx="314.2" cy="166.8" r="2.00"/><circle cx="315.3" cy="167.4" r="2.00"/><circle cx="316.4" cy="166.3" r="2.00"/><circle cx="316.9" cy="165.2" r="2.00"/><circle cx="318.0" cy="159.7" r="2.00"/><circle cx="319.6" cy="159.0" r="2.00"/><circle cx="320.7" cy="160.3" r="2.00"/><circle cx="319.1" cy="161.4" r="2.00"/><circle cx="317.7" cy="161.4" r="2.00"/><circle cx="321.8" cy="163.0" r="2.00"/><circle cx="323.5" cy="161.6" r="2.00"/><circle cx="324.5" cy="162.5" r="2.00"/><circle cx="322.4" cy="165.2" r="2.00"/><circle cx="322.9" cy="166.8" r="2.00"/><circle cx="324.2" cy="165.2" r="2.00"/><circle cx="325.6" cy="164.1" r="2.00"/><circle cx="327.3" cy="164.6" r="2.00"/><circle cx="328.9" cy="163.3" r="2.00"/><circle cx="330.0" cy="165.2" r="2.00"/><circle cx="328.6" cy="165.7" r="2.00"/><circle cx="331.1" cy="166.3" r="2.00"/><circle cx="332.2" cy="167.4" r="2.00"/><circle cx="333.3" cy="168.5" r="2.00"/><circle cx="334.4" cy="166.8" r="2.00"/><circle cx="336.0" cy="166.3" r="2.00"/><circle cx="337.6" cy="165.2" r="2.00"/><circle cx="339.3" cy="164.1" r="2.00"/><circle cx="340.4" cy="163.0" r="2.00"/><circle cx="340.6" cy="164.6" r="2.00"/><circle cx="338.7" cy="157.5" r="2.00"/><circle cx="339.3" cy="158.6" r="2.00"/><circle cx="340.9" cy="168.5" r="2.00"/><circle cx="342.0" cy="170.1" r="2.00"/><circle cx="343.1" cy="171.7" r="2.00"/><circle cx="344.7" cy="172.3" r="2.00"/><circle cx="345.8" cy="173.1" r="2.00"/><circle cx="343.6" cy="173.1" r="2.00"/></g>
<g font-family="&quot;Liberation Sans&quot;, sans-serif" font-size="6.0" fill="#484848" stroke="#484848" stroke-width="0.18"><text transform="translate(299.20 187.00) scale(0.93 1)" text-anchor="end">0</text><text transform="translate(299.20 175.10) scale(0.93 1)" text-anchor="end">20</text><text transform="translate(299.20 163.20) scale(0.93 1)" text-anchor="end">40</text><text transform="translate(299.20 151.30) scale(0.93 1)" text-anchor="end">60</text><text transform="translate(299.20 139.40) scale(0.93 1)" text-anchor="end">80</text><text transform="translate(299.20 127.50) scale(0.93 1)" text-anchor="end">100</text><text transform="translate(305.10 195.25) scale(0.93 1)" text-anchor="middle">0</text><text transform="translate(328.85 195.25) scale(0.93 1)" text-anchor="middle">10</text><text transform="translate(352.60 195.25) scale(0.93 1)" text-anchor="middle">20</text><text transform="translate(376.35 195.25) scale(0.93 1)" text-anchor="middle">30</text><text transform="translate(400.10 195.25) scale(0.93 1)" text-anchor="middle">40</text></g>
<g stroke="#dadada" stroke-width="0.75"><line x1="450.93" y1="127.70" x2="450.93" y2="186.00"/><line x1="476.75" y1="127.70" x2="476.75" y2="186.00"/><line x1="502.57" y1="127.70" x2="502.57" y2="186.00"/><line x1="528.40" y1="127.70" x2="528.40" y2="186.00"/><line x1="425.10" y1="174.34" x2="528.40" y2="174.34"/><line x1="425.10" y1="162.68" x2="528.40" y2="162.68"/><line x1="425.10" y1="151.02" x2="528.40" y2="151.02"/><line x1="425.10" y1="139.36" x2="528.40" y2="139.36"/><line x1="425.10" y1="127.70" x2="528.40" y2="127.70"/></g>
<path d="M425.10 127.70V186.00H528.40" fill="none" stroke="#404040" stroke-width="1.35" stroke-linejoin="miter"/>
<g fill="#106fc5"><circle cx="425.9" cy="160.3" r="1.85"/><circle cx="425.4" cy="164.1" r="1.85"/><circle cx="426.6" cy="162.7" r="1.85"/><circle cx="427.7" cy="165.0" r="1.85"/><circle cx="429.1" cy="166.5" r="1.85"/><circle cx="429.5" cy="170.6" r="1.85"/><circle cx="430.5" cy="172.2" r="1.85"/><circle cx="431.6" cy="173.6" r="1.85"/><circle cx="432.8" cy="172.9" r="1.85"/><circle cx="434.4" cy="174.1" r="1.85"/><circle cx="435.7" cy="172.9" r="1.85"/><circle cx="436.7" cy="175.3" r="1.85"/><circle cx="437.5" cy="177.7" r="1.85"/><circle cx="430.5" cy="183.1" r="1.85"/><circle cx="430.5" cy="185.5" r="1.85"/><circle cx="438.0" cy="180.1" r="1.85"/><circle cx="438.5" cy="183.7" r="1.85"/><circle cx="442.1" cy="181.2" r="1.85"/><circle cx="448.3" cy="181.9" r="1.85"/><circle cx="448.9" cy="183.7" r="1.85"/><circle cx="450.4" cy="182.5" r="1.85"/><circle cx="451.4" cy="184.3" r="1.85"/><circle cx="452.2" cy="186.0" r="1.85"/><circle cx="452.2" cy="173.6" r="1.85"/><circle cx="453.2" cy="175.3" r="1.85"/><circle cx="453.5" cy="168.2" r="1.85"/><circle cx="454.0" cy="165.0" r="1.85"/><circle cx="454.5" cy="155.1" r="1.85"/><circle cx="455.3" cy="158.6" r="1.85"/><circle cx="456.6" cy="157.4" r="1.85"/><circle cx="460.0" cy="166.5" r="1.85"/><circle cx="459.4" cy="180.1" r="1.85"/><circle cx="460.5" cy="181.2" r="1.85"/><circle cx="461.3" cy="179.4" r="1.85"/><circle cx="462.0" cy="182.5" r="1.85"/><circle cx="462.8" cy="184.8" r="1.85"/><circle cx="464.1" cy="186.0" r="1.85"/><circle cx="465.9" cy="186.0" r="1.85"/><circle cx="466.9" cy="163.4" r="1.85"/><circle cx="467.2" cy="160.3" r="1.85"/><circle cx="468.4" cy="159.8" r="1.85"/><circle cx="469.3" cy="161.0" r="1.85"/><circle cx="470.8" cy="158.6" r="1.85"/><circle cx="471.8" cy="157.4" r="1.85"/><circle cx="473.1" cy="158.6" r="1.85"/><circle cx="473.9" cy="157.4" r="1.85"/><circle cx="474.9" cy="159.8" r="1.85"/><circle cx="474.4" cy="161.0" r="1.85"/><circle cx="439.3" cy="186.0" r="1.85"/><circle cx="440.3" cy="186.0" r="1.85"/><circle cx="441.4" cy="186.0" r="1.85"/><circle cx="442.4" cy="186.0" r="1.85"/><circle cx="443.4" cy="186.0" r="1.85"/><circle cx="444.5" cy="186.0" r="1.85"/><circle cx="445.5" cy="186.0" r="1.85"/><circle cx="446.5" cy="186.0" r="1.85"/><circle cx="447.6" cy="186.0" r="1.85"/></g>
<g font-family="&quot;Liberation Sans&quot;, sans-serif" font-size="6.0" fill="#484848" stroke="#484848" stroke-width="0.18"><text transform="translate(419.20 188.10) scale(0.93 1)" text-anchor="end">0</text><text transform="translate(419.20 176.44) scale(0.93 1)" text-anchor="end">20</text><text transform="translate(419.20 164.78) scale(0.93 1)" text-anchor="end">40</text><text transform="translate(419.20 153.12) scale(0.93 1)" text-anchor="end">60</text><text transform="translate(419.20 141.46) scale(0.93 1)" text-anchor="end">80</text><text transform="translate(419.20 129.80) scale(0.93 1)" text-anchor="end">100</text><text transform="translate(425.10 196.00) scale(0.93 1)" text-anchor="middle">0</text><text transform="translate(450.93 196.00) scale(0.93 1)" text-anchor="middle">10</text><text transform="translate(476.75 196.00) scale(0.93 1)" text-anchor="middle">20</text><text transform="translate(502.57 196.00) scale(0.93 1)" text-anchor="middle">30</text><text transform="translate(528.40 196.00) scale(0.93 1)" text-anchor="middle">40</text></g>
<g stroke="#dadada" stroke-width="0.75"><line x1="327.75" y1="205.60" x2="327.75" y2="263.75"/><line x1="352.10" y1="205.60" x2="352.10" y2="263.75"/><line x1="376.45" y1="205.60" x2="376.45" y2="263.75"/><line x1="400.80" y1="205.60" x2="400.80" y2="263.75"/><line x1="303.40" y1="252.12" x2="400.80" y2="252.12"/><line x1="303.40" y1="240.49" x2="400.80" y2="240.49"/><line x1="303.40" y1="228.86" x2="400.80" y2="228.86"/><line x1="303.40" y1="217.23" x2="400.80" y2="217.23"/><line x1="303.40" y1="205.60" x2="400.80" y2="205.60"/></g>
<g fill="#7ecc3d"><circle cx="304.4" cy="251.4" r="1.75"/><circle cx="306.3" cy="251.0" r="1.75"/><circle cx="307.2" cy="249.8" r="1.75"/><circle cx="308.0" cy="251.0" r="1.75"/><circle cx="309.0" cy="255.0" r="1.75"/><circle cx="309.7" cy="263.8" r="1.75"/><circle cx="314.6" cy="255.0" r="1.75"/><circle cx="315.1" cy="253.3" r="1.75"/><circle cx="315.6" cy="251.9" r="1.75"/><circle cx="316.3" cy="253.9" r="1.75"/><circle cx="317.5" cy="245.3" r="1.75"/><circle cx="318.3" cy="246.7" r="1.75"/><circle cx="319.5" cy="247.9" r="1.75"/><circle cx="320.4" cy="249.0" r="1.75"/><circle cx="321.2" cy="250.2" r="1.75"/><circle cx="322.1" cy="249.0" r="1.75"/><circle cx="323.1" cy="251.0" r="1.75"/><circle cx="323.9" cy="252.1" r="1.75"/><circle cx="325.1" cy="251.4" r="1.75"/><circle cx="327.5" cy="263.8" r="1.75"/><circle cx="328.7" cy="263.8" r="1.75"/><circle cx="329.9" cy="263.8" r="1.75"/><circle cx="331.2" cy="252.6" r="1.75"/><circle cx="331.9" cy="254.3" r="1.75"/><circle cx="332.6" cy="253.3" r="1.75"/><circle cx="334.1" cy="263.8" r="1.75"/><circle cx="335.8" cy="263.8" r="1.75"/><circle cx="336.5" cy="258.5" r="1.75"/><circle cx="337.5" cy="257.4" r="1.75"/><circle cx="338.5" cy="255.7" r="1.75"/><circle cx="339.0" cy="260.9" r="1.75"/><circle cx="339.4" cy="263.8" r="1.75"/><circle cx="339.9" cy="253.9" r="1.75"/><circle cx="340.7" cy="252.6" r="1.75"/><circle cx="341.6" cy="253.9" r="1.75"/><circle cx="342.8" cy="255.0" r="1.75"/><circle cx="344.1" cy="256.2" r="1.75"/><circle cx="346.0" cy="256.7" r="1.75"/><circle cx="348.2" cy="263.8" r="1.75"/><circle cx="350.2" cy="257.4" r="1.75"/><circle cx="351.1" cy="255.7" r="1.75"/><circle cx="351.9" cy="255.0" r="1.75"/><circle cx="352.3" cy="263.8" r="1.75"/><circle cx="355.3" cy="263.8" r="1.75"/><circle cx="363.1" cy="236.7" r="1.75"/><circle cx="364.8" cy="263.8" r="1.75"/><circle cx="366.0" cy="263.8" r="1.75"/><circle cx="367.7" cy="253.1" r="1.75"/><circle cx="368.7" cy="254.3" r="1.75"/><circle cx="370.1" cy="253.9" r="1.75"/><circle cx="371.6" cy="255.0" r="1.75"/><circle cx="372.3" cy="263.8" r="1.75"/><circle cx="373.0" cy="253.9" r="1.75"/><circle cx="374.0" cy="255.7" r="1.75"/><circle cx="375.2" cy="253.9" r="1.75"/><circle cx="376.0" cy="251.9" r="1.75"/><circle cx="376.7" cy="250.2" r="1.75"/><circle cx="377.4" cy="248.6" r="1.75"/><circle cx="377.9" cy="251.4" r="1.75"/><circle cx="378.6" cy="255.7" r="1.75"/><circle cx="379.1" cy="258.1" r="1.75"/><circle cx="379.6" cy="259.7" r="1.75"/><circle cx="380.3" cy="257.4" r="1.75"/><circle cx="381.8" cy="255.0" r="1.75"/><circle cx="383.3" cy="254.3" r="1.75"/><circle cx="389.8" cy="245.7" r="1.75"/></g>
<path d="M303.40 205.60V263.75H400.80" fill="none" stroke="#404040" stroke-width="1.35" stroke-linejoin="miter"/>
<g font-family="&quot;Liberation Sans&quot;, sans-serif" font-size="6.0" fill="#484848" stroke="#484848" stroke-width="0.18"><text transform="translate(297.50 265.85) scale(0.93 1)" text-anchor="end">0</text><text transform="translate(297.50 254.22) scale(0.93 1)" text-anchor="end">20</text><text transform="translate(297.50 242.59) scale(0.93 1)" text-anchor="end">40</text><text transform="translate(297.50 230.96) scale(0.93 1)" text-anchor="end">60</text><text transform="translate(297.50 219.33) scale(0.93 1)" text-anchor="end">80</text><text transform="translate(297.50 207.70) scale(0.93 1)" text-anchor="end">100</text><text transform="translate(303.40 274.10) scale(0.93 1)" text-anchor="middle">0</text><text transform="translate(327.75 274.10) scale(0.93 1)" text-anchor="middle">10</text><text transform="translate(352.10 274.10) scale(0.93 1)" text-anchor="middle">20</text><text transform="translate(376.45 274.10) scale(0.93 1)" text-anchor="middle">30</text><text transform="translate(400.80 274.10) scale(0.93 1)" text-anchor="middle">40</text></g>
<g stroke="#dadada" stroke-width="0.75"><line x1="451.95" y1="207.40" x2="451.95" y2="265.90"/><line x1="477.30" y1="207.40" x2="477.30" y2="265.90"/><line x1="502.65" y1="207.40" x2="502.65" y2="265.90"/><line x1="528.00" y1="207.40" x2="528.00" y2="265.90"/><line x1="426.60" y1="254.20" x2="528.00" y2="254.20"/><line x1="426.60" y1="242.50" x2="528.00" y2="242.50"/><line x1="426.60" y1="230.80" x2="528.00" y2="230.80"/><line x1="426.60" y1="219.10" x2="528.00" y2="219.10"/><line x1="426.60" y1="207.40" x2="528.00" y2="207.40"/></g>
<path d="M426.60 207.40V265.90H528.00" fill="none" stroke="#404040" stroke-width="1.35" stroke-linejoin="miter"/>
<g fill="#16aaec"><circle cx="429.6" cy="252.7" r="1.80"/><circle cx="430.7" cy="252.1" r="1.80"/><circle cx="431.5" cy="251.2" r="1.80"/><circle cx="430.3" cy="254.6" r="1.80"/><circle cx="430.9" cy="255.9" r="1.80"/><circle cx="432.8" cy="259.1" r="1.80"/><circle cx="433.7" cy="260.4" r="1.80"/><circle cx="434.7" cy="261.6" r="1.80"/><circle cx="435.4" cy="262.7" r="1.80"/><circle cx="436.3" cy="261.4" r="1.80"/><circle cx="434.1" cy="262.7" r="1.80"/><circle cx="437.3" cy="257.8" r="1.80"/><circle cx="437.9" cy="256.5" r="1.80"/><circle cx="438.8" cy="255.3" r="1.80"/><circle cx="437.9" cy="250.8" r="1.80"/><circle cx="438.5" cy="249.5" r="1.80"/><circle cx="441.1" cy="248.3" r="1.80"/><circle cx="441.3" cy="249.2" r="1.80"/><circle cx="439.8" cy="251.5" r="1.80"/><circle cx="438.3" cy="252.1" r="1.80"/><circle cx="441.1" cy="255.3" r="1.80"/><circle cx="442.4" cy="256.3" r="1.80"/><circle cx="443.4" cy="256.8" r="1.80"/><circle cx="444.3" cy="261.6" r="1.80"/><circle cx="445.5" cy="262.7" r="1.80"/><circle cx="446.8" cy="262.3" r="1.80"/><circle cx="448.1" cy="261.4" r="1.80"/><circle cx="449.4" cy="260.4" r="1.80"/><circle cx="450.6" cy="259.7" r="1.80"/><circle cx="451.9" cy="258.8" r="1.80"/><circle cx="452.5" cy="260.4" r="1.80"/><circle cx="453.2" cy="256.5" r="1.80"/><circle cx="453.6" cy="255.0" r="1.80"/><circle cx="454.1" cy="253.4" r="1.80"/><circle cx="453.8" cy="257.8" r="1.80"/><circle cx="455.5" cy="246.4" r="1.80"/><circle cx="457.6" cy="257.8" r="1.80"/><circle cx="458.9" cy="259.1" r="1.80"/><circle cx="459.9" cy="260.4" r="1.80"/><circle cx="460.8" cy="261.6" r="1.80"/><circle cx="461.7" cy="262.9" r="1.80"/><circle cx="462.7" cy="264.2" r="1.80"/><circle cx="463.7" cy="265.5" r="1.80"/><circle cx="464.6" cy="266.1" r="1.80"/><circle cx="465.9" cy="265.5" r="1.80"/><circle cx="466.5" cy="263.5" r="1.80"/><circle cx="465.3" cy="262.3" r="1.80"/><circle cx="464.0" cy="261.0" r="1.80"/><circle cx="462.7" cy="259.7" r="1.80"/><circle cx="460.2" cy="258.5" r="1.80"/><circle cx="461.5" cy="260.4" r="1.80"/><circle cx="463.0" cy="262.3" r="1.80"/><circle cx="464.6" cy="263.9" r="1.80"/><circle cx="462.5" cy="265.8" r="1.80"/><circle cx="467.2" cy="258.5" r="1.80"/><circle cx="468.5" cy="257.6" r="1.80"/><circle cx="469.7" cy="258.1" r="1.80"/><circle cx="471.0" cy="259.1" r="1.80"/><circle cx="472.3" cy="259.7" r="1.80"/><circle cx="467.8" cy="260.4" r="1.80"/><circle cx="469.1" cy="261.0" r="1.80"/><circle cx="476.7" cy="256.5" r="1.80"/><circle cx="478.0" cy="255.9" r="1.80"/><circle cx="479.3" cy="255.3" r="1.80"/><circle cx="480.5" cy="254.6" r="1.80"/><circle cx="481.6" cy="254.0" r="1.80"/><circle cx="484.7" cy="248.0" r="1.80"/></g>
<g font-family="&quot;Liberation Sans&quot;, sans-serif" font-size="6.0" fill="#484848" stroke="#484848" stroke-width="0.18"><text transform="translate(420.70 268.00) scale(0.93 1)" text-anchor="end">0</text><text transform="translate(420.70 256.30) scale(0.93 1)" text-anchor="end">20</text><text transform="translate(420.70 244.60) scale(0.93 1)" text-anchor="end">40</text><text transform="translate(420.70 232.90) scale(0.93 1)" text-anchor="end">60</text><text transform="translate(420.70 221.20) scale(0.93 1)" text-anchor="end">80</text><text transform="translate(420.70 209.50) scale(0.93 1)" text-anchor="end">100</text><text transform="translate(426.60 276.60) scale(0.93 1)" text-anchor="middle">0</text><text transform="translate(451.95 276.60) scale(0.93 1)" text-anchor="middle">10</text><text transform="translate(477.30 276.60) scale(0.93 1)" text-anchor="middle">20</text><text transform="translate(502.65 276.60) scale(0.93 1)" text-anchor="middle">30</text><text transform="translate(528.00 276.60) scale(0.93 1)" text-anchor="middle">40</text></g>
<text x="71.45" y="319.3" textLength="39.8" lengthAdjust="spacingAndGlyphs" font-family="&quot;Liberation Serif&quot;, serif" font-weight="bold" font-size="8.8" fill="#1c1c1c" stroke="#1c1c1c" stroke-width="0.3">Time (Sec)</text>
<text x="194.00" y="319.3" textLength="40.2" lengthAdjust="spacingAndGlyphs" font-family="&quot;Liberation Serif&quot;, serif" font-weight="bold" font-size="8.8" fill="#1c1c1c" stroke="#1c1c1c" stroke-width="0.3">Time (Sec)</text>
<text x="333.20" y="287.5" textLength="40.1" lengthAdjust="spacingAndGlyphs" font-family="&quot;Liberation Serif&quot;, serif" font-weight="bold" font-size="8.8" fill="#1c1c1c" stroke="#1c1c1c" stroke-width="0.3">Time (Sec)</text>
<text x="455.00" y="287.5" textLength="40.0" lengthAdjust="spacingAndGlyphs" font-family="&quot;Liberation Serif&quot;, serif" font-weight="bold" font-size="8.8" fill="#1c1c1c" stroke="#1c1c1c" stroke-width="0.3">Time (Sec)</text>
<text transform="translate(16.6 218.4) rotate(-90)" textLength="138.9" lengthAdjust="spacingAndGlyphs" font-family="&quot;Liberation Serif&quot;, serif" font-weight="bold" font-size="8.8" fill="#1a1a1a" stroke="#1a1a1a" stroke-width="0.15">Distance gaze from the line (Angles)</text>
<text transform="translate(283.7 186.0) rotate(-90)" textLength="143.6" lengthAdjust="spacingAndGlyphs" font-family="&quot;Liberation Serif&quot;, serif" font-weight="bold" font-size="8.8" fill="#1a1a1a" stroke="#1a1a1a" stroke-width="0.15">Distance gaze from the line (Angles)</text>
<line x1="22.6" y1="77.3" x2="22.6" y2="220.9" stroke="#111" stroke-width="1.35"/><path d="M22.6 75.3L20.5 79.5H24.7Z" fill="#111"/>
<line x1="289.0" y1="36.8" x2="289.0" y2="186.8" stroke="#111" stroke-width="1.35"/><path d="M289.0 34.8L286.9 39.0H291.1Z" fill="#111"/>
</svg>
</body></html>
